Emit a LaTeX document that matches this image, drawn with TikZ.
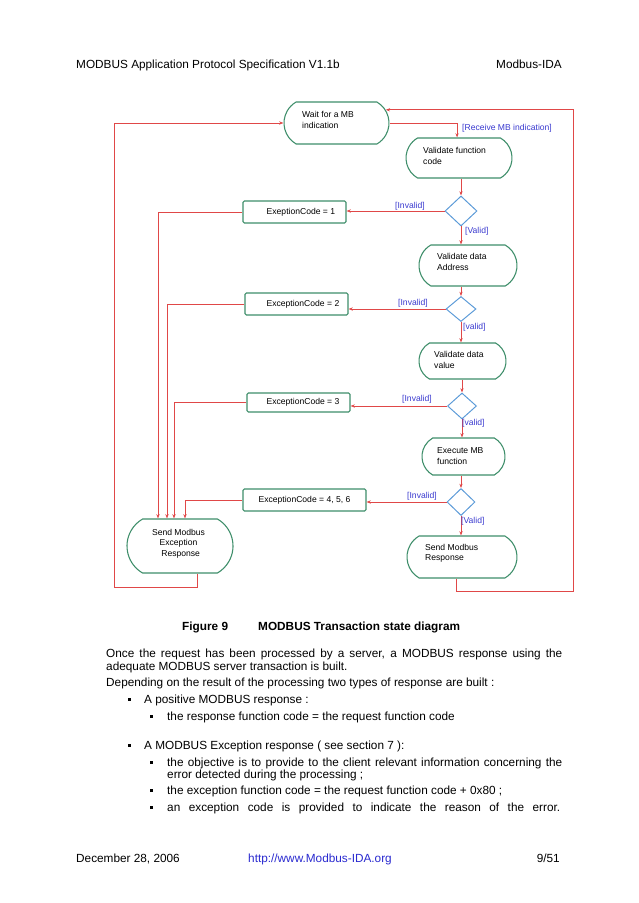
\documentclass[tikz,border=0pt]{standalone}
\usepackage{fontspec}
\setmainfont{Liberation Sans}
\usetikzlibrary{shapes.misc,shapes.geometric,arrows.meta,calc}
\definecolor{nodegreen}{HTML}{3E8E6A}
\definecolor{decblue}{HTML}{5A9AD8}
\definecolor{flowred}{HTML}{E04848}
\definecolor{lblblue}{HTML}{3A3AD0}
\definecolor{urlblue}{HTML}{2A2AD0}
\def\pxu{0.9326pt}
\newcommand{\dfont}{\fontsize{8}{9.8}\selectfont}
\newcommand{\bfont}{\fontsize{11}{13}\selectfont}
\tikzset{
  state/.style={rounded rectangle, rounded rectangle arc length=120, draw=nodegreen, line width=1pt, inner sep=0pt},
  exc/.style={rectangle, rounded corners=1.2pt, draw=nodegreen, line width=1pt, inner sep=0pt, font=\dfont},
  dec/.style={diamond, draw=decblue, line width=0.9pt, inner sep=0pt},
  flow/.style={draw=flowred, line width=0.9pt, -{Stealth[length=4pt,width=3pt]}},
  lbl/.style={text=lblblue, font=\dfont, anchor=west, inner sep=0pt},
  stxt/.style={font=\dfont, align=left, anchor=west, inner sep=0pt},
  body/.style={font=\bfont, anchor=base west, inner sep=0pt},
  bul/.style={fill=black, minimum size={3.4*\pxu}, inner sep=0pt, rectangle},
}
\begin{document}
\begin{tikzpicture}[x=0.9326pt,y=-0.9326pt]
\useasboundingbox[fill=white] (0,0) rectangle (638,903);

% header
\node[body] (hd1) at (76,69) {MODBUS Application Protocol Specification V1.1b};
\node[body, anchor=base east] (hd2) at (562,69) {Modbus-IDA};

% states
\node[state, minimum width={105*\pxu}, minimum height={42*\pxu}] (wait) at (336.5,123) {};
\node[state, minimum width={106*\pxu}, minimum height={40*\pxu}] (vfc) at (459,158) {};
\node[state, minimum width={98*\pxu}, minimum height={41*\pxu}] (vda) at (468,265.5) {};
\node[state, minimum width={87*\pxu}, minimum height={36*\pxu}] (vdv) at (462.5,361) {};
\node[state, minimum width={83*\pxu}, minimum height={37*\pxu}] (emb) at (463.5,456.5) {};
\node[state, minimum width={106*\pxu}, minimum height={54*\pxu}] (sme) at (180,546) {};
\node[state, minimum width={110*\pxu}, minimum height={42*\pxu}] (smr) at (462,557) {};

% state texts
\node[stxt] (twait) at (302,120) {Wait for a MB\\indication};
\node[stxt] (tvfc) at (423,156) {Validate function\\code};
\node[stxt] (tvda) at (437,262) {Validate data\\Address};
\node[stxt] (tvdv) at (434,360) {Validate data\\value};
\node[stxt] (temb) at (437,456) {Execute MB\\function};
\node[stxt] (tsmr) at (425,553.5) {Send Modbus\\Response};
\node[stxt, align=center, anchor=center] (tsme) at (178.5,543.5) {Send Modbus\\Exception\\\hspace*{4pt}Response};

% decisions
\node[dec, minimum width={32*\pxu}, minimum height={30*\pxu}] (d1) at (461,211) {};
\node[dec, minimum width={30*\pxu}, minimum height={25*\pxu}] (d2) at (461,309) {};
\node[dec, minimum width={29*\pxu}, minimum height={26*\pxu}] (d3) at (462,406) {};
\node[dec, minimum width={28*\pxu}, minimum height={27*\pxu}] (d4) at (461,502) {};

% exception code boxes
\node[exc, minimum width={103*\pxu}, minimum height={22*\pxu}] (e1) at (294.5,212) {\hspace*{12pt}ExeptionCode = 1};
\node[exc, minimum width={103*\pxu}, minimum height={22*\pxu}] (e2) at (296.5,304) {\hspace*{12pt}ExceptionCode = 2};
\node[exc, minimum width={103*\pxu}, minimum height={19*\pxu}] (e3) at (298.5,402.5) {\hspace*{8.4pt}ExceptionCode = 3};
\node[exc, minimum width={123*\pxu}, minimum height={22*\pxu}] (e4) at (304.5,500) {ExceptionCode = 4, 5, 6};

% connectors
\coordinate (rb) at (573,591);
\coordinate (lb) at (114,587);
\draw[flow] ([xshift=-4.7pt]smr.south) |- (rb) -- (rb |- wait.15) -- (wait.15);
\draw[flow] ([xshift=15.9pt]sme.south) |- (lb) |- (wait.west);
\draw[flow] (wait.east) -| ([xshift=-1.8pt]vfc.north);

\draw[flow] (d1.north |- vfc.south) -- (d1.north);
\draw[flow] (d1.south) -- (d1.south |- vda.north);
\draw[flow] (d2.north |- vda.south) -- (d2.north);
\draw[flow] (d2.south) -- (d2.south |- vdv.north);
\draw[flow] (d3.north |- vdv.south) -- (d3.north);
\draw[flow] (d3.south) -- (d3.south |- emb.north);
\draw[flow] (d4.north |- emb.south) -- (d4.north);
\draw[flow] (d4.south) -- (d4.south |- smr.north);

\draw[flow] (d1.west) -- (d1.west -| e1.east);
\draw[flow] (d2.west) -- (d2.west -| e2.east);
\draw[flow] (d3.west) -- (d3.west -| e3.east);
\draw[flow] (d4.west) -- (d4.west -| e4.east);

\draw[flow] (e1.west) -| ($(sme.north)+(-22,0)$);
\draw[flow] (e2.west) -| ($(sme.north)+(-13,0)$);
\draw[flow] (e3.west) -| ($(sme.north)+(-6,0)$);
\draw[flow] (e4.west) -| ($(sme.north)+(5,0)$);

% labels
\node[lbl] (lrec) at (462,128) {[Receive MB indication]};
\node[lbl] (li1) at (395,206) {[Invalid]};
\node[lbl] (lv1) at (465,231) {[Valid]};
\node[lbl] (li2) at (398,303) {[Invalid]};
\node[lbl] (lv2) at (463,327) {[valid]};
\node[lbl] (li3) at (402,399) {[Invalid]};
\node[lbl] (lv3) at (462,423) {[valid]};
\node[lbl] (li4) at (407,496) {[Invalid]};
\node[lbl] (lv4) at (461,521) {[Valid]};

% caption
\node[body, font=\bfont\bfseries] (cap1) at (182,630) {Figure 9};
\node[body, font=\bfont\bfseries] (cap2) at (258,630) {MODBUS Transaction state diagram};

% body text
\node[body] (p1) at (106,657) {\makebox[425.3pt][s]{Once the request has been processed by a server, a MODBUS response using the}};
\node[body] (p2) at (106,670) {adequate MODBUS server transaction is built.};
\node[body] (p3) at (106,686) {Depending on the result of the processing two types of response are built :};
\node[bul] (b1) at (129.5,699.5) {};
\node[body] (t1) at (144,703) {A positive MODBUS response :};
\node[bul] (b2) at (151.5,716.5) {};
\node[body] (t2) at (167,720) {the response function code = the request function code};
\node[bul] (b3) at (129.5,745.5) {};
\node[body] (t3) at (144,749) {A MODBUS Exception response ( see section 7 ):};
\node[bul] (b4) at (151.5,762.5) {};
\node[body] (t4) at (167,766) {\makebox[368.4pt][s]{the objective is to provide to the client relevant information concerning the}};
\node[body] (t4b) at (167,778) {error detected during the processing ;};
\node[bul] (b5) at (151.5,790.5) {};
\node[body] (t5) at (167,794) {the exception function code = the request function code + 0x80 ;};
\node[bul] (b6) at (151.5,807.5) {};
\node[body] (t6) at (167,811) {\makebox[366.5pt][s]{an exception code is provided to indicate the reason of the error.}};

% footer
\node[body] (f1) at (76,862) {December 28, 2006};
\node[body, text=urlblue] (f2) at (248,862) {http://www.Modbus-IDA.org};
\node[body, anchor=base east] (f3) at (560,862) {9/51};
\end{tikzpicture}
\end{document}
